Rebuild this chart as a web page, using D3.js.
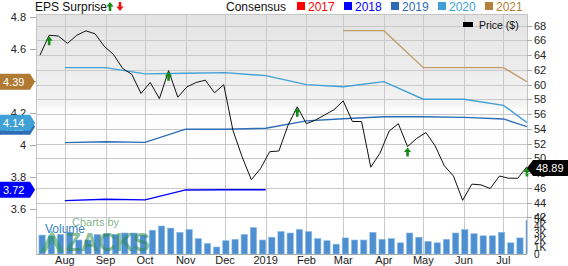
<!DOCTYPE html>
<html>
<head>
<meta charset="utf-8">
<script src="https://cdn.jsdelivr.net/npm/d3@7"></script>
<style>
  body { margin: 0; background: #fff; }
  text { font-family: "Liberation Sans", Arial, sans-serif; }
</style>
</head>
<body>
<div id="chart"></div>
<script>
var width  = 568;
var height = 266;

// Plot box: left, right, top, bottom, and top of the volume strip.
var p = { l: 36, r: 527, t: 14, b: 254, v: 218 };

// ---- data ----
var firstWeek = new Date(2018, 6, 13);

// weekly closing price ($)
var prices = [64.0, 66.7, 66.6, 65.6, 66.7, 67.3, 66.9, 65.2, 64.1, 62.2,
              61.4, 58.8, 60.3, 58.1, 61.9, 58.3, 59.7, 60.3, 60.6, 58.9,
              60.0, 53.8, 50.2, 47.1, 48.6, 50.9, 51.0, 54.5, 57.0, 54.7,
              55.2, 55.9, 56.6, 57.8, 55.0, 55.0, 48.8, 50.7, 53.7, 54.7,
              51.6, 52.7, 53.5, 51.7, 49.0, 47.6, 44.3, 46.5, 46.4, 45.9,
              47.6, 47.3, 47.3, 48.89];

// weekly volume (K)
var volumes = [2.7, 2.6, 2.8, 3.1, 2.0, 2.0, 2.8, 2.9, 2.8, 3.0,
               3.0, 2.7, 3.4, 4.0, 3.7, 3.1, 3.5, 2.2, 1.5, 1.0,
               1.9, 2.1, 2.8, 3.8, 2.0, 2.4, 3.2, 3.0, 3.5, 3.2,
               2.2, 1.9, 1.4, 2.3, 2.0, 2.0, 3.1, 2.1, 2.2, 1.6,
               3.0, 2.4, 1.8, 1.6, 2.1, 3.0, 3.5, 2.9, 2.6, 2.6,
               3.1, 1.6, 2.3, 4.8];

// weeks (index into prices) with a positive EPS surprise
var surpriseWeeks = [1, 14, 28, 40, 53];

// consensus estimate dates
var consensusDates = ["2018-08-01", "2018-09-01", "2018-10-01", "2018-11-01",
                      "2018-12-01", "2019-01-01", "2019-02-01", "2019-03-01",
                      "2019-04-01", "2019-05-01", "2019-06-01", "2019-07-01",
                      "2019-07-19"];

var eps2018 = [3.652, 3.661, 3.657, 3.719, 3.72, 3.72,
               null, null, null, null, null, null, null];
var eps2019 = [4.014, 4.02, 4.016, 4.098, 4.098, 4.104, 4.15,
               4.163, 4.176, 4.176, 4.172, 4.162, 4.114];
var eps2020 = [4.482, 4.482, 4.443, 4.447, 4.451, 4.432, 4.376,
               4.363, 4.395, 4.285, 4.285, 4.247, 4.139];
var eps2021 = [null, null, null, null, null, null, null,
               4.713, 4.713, 4.482, 4.482, 4.482, 4.394];

var legendYears = ["2017", "2018", "2019", "2020", "2021"];
var legendColors = ["#ff0000", "#0000ff", "#2d6db6", "#3fa1d6", "#b5803a"];

var monthTicks = ["2018-08-01", "2018-09-01", "2018-10-01", "2018-11-01",
                  "2018-12-01", "2019-01-01", "2019-02-01", "2019-03-01",
                  "2019-04-01", "2019-05-01", "2019-06-01", "2019-07-01"];
var monthLabels = ["Aug", "Sep", "Oct", "Nov", "Dec", "2019",
                   "Feb", "Mar", "Apr", "May", "Jun", "Jul"];

var priceTicks = [42, 44, 46, 48, 50, 52, 54, 56, 58, 60, 62, 64, 66, 68];
var epsTicks = [3.6, 3.8, 4.0, 4.2, 4.4, 4.6, 4.8];
var volumeTicks = [0, 1, 2, 3, 4, 5];

// ---- scales ----
var parse = d3.timeParse("%Y-%m-%d");

var x = d3.scaleTime()
          .domain([new Date(2018, 6, 10), new Date(2019, 6, 19)])
          .range([p.l, p.r]);

var yPrice = d3.scaleLinear().domain([42, 68]).range([217.3, 25.7]);
var yEps   = d3.scaleLinear().domain([3.6, 4.8]).range([209, 16.7]);
var yVol   = d3.scaleLinear().domain([0, 5]).range([p.b, 219]);

var weekDate = function(i) { return d3.timeDay.offset(firstWeek, 7 * i); };

var svg = d3.select('#chart')
            .append('svg')
            .attr('width', width)
            .attr('height', height);

var defs = svg.append('defs');

var grad = defs.append('linearGradient')
               .attr('id', 'bg')
               .attr('x1', 0).attr('y1', 0).attr('x2', 0).attr('y2', 1);
grad.append('stop').attr('offset', '0%').attr('stop-color', '#e3e3e3');
grad.append('stop').attr('offset', '44%').attr('stop-color', '#f3f3f3');
grad.append('stop').attr('offset', '47%').attr('stop-color', '#fdfdfd');
grad.append('stop').attr('offset', '100%').attr('stop-color', '#ffffff');

defs.append('clipPath').attr('id', 'plot')
    .append('rect')
    .attr('x', p.l).attr('y', p.t)
    .attr('width', p.r - p.l).attr('height', p.b - p.t);

// Background of the price area
svg.append('rect')
   .attr('x', p.l).attr('y', p.t)
   .attr('width', p.r - p.l).attr('height', p.v - p.t)
   .attr('fill', 'url(#bg)');

// Grid lines
var grid = svg.append('g').attr('stroke', '#c9c9c9').attr('stroke-width', 1);

grid.selectAll('line.h')
    .data(priceTicks)
    .enter().append('line')
    .attr('x1', p.l).attr('x2', p.r)
    .attr('y1', function(d) { return Math.round(yPrice(d)) + 0.5; })
    .attr('y2', function(d) { return Math.round(yPrice(d)) + 0.5; });

grid.selectAll('line.v')
    .data(monthTicks)
    .enter().append('line')
    .attr('y1', p.t).attr('y2', p.b)
    .attr('x1', function(d) { return Math.round(x(parse(d))) + 0.5; })
    .attr('x2', function(d) { return Math.round(x(parse(d))) + 0.5; });

// plot border
svg.append('path')
   .attr('d', 'M' + (p.l + 0.5) + ',' + p.b + 'V' + (p.t + 0.5) + 'H' + (p.r + 0.5) + 'V' + p.b)
   .attr('fill', 'none')
   .attr('stroke', '#c4c4c4');

var plot = svg.append('g').attr('clip-path', 'url(#plot)');

// Volume bars
plot.selectAll('rect.vol')
    .data(volumes)
    .enter().append('rect')
    .attr('x', function(d, i) { return x(weekDate(i)) - 1; })
    .attr('y', function(d) { return yVol(d); })
    .attr('width', 6.3)
    .attr('height', function(d) { return p.b - yVol(d); })
    .attr('fill', '#4d8fd0')
    .attr('stroke', '#8dbbe6')
    .attr('stroke-width', 0.6);

// Watermark
svg.append('text')
   .attr('x', 45).attr('y', 233)
   .style('font-size', '12px')
   .attr('fill', '#3a7fc6')
   .text('Volume');

svg.append('text')
   .attr('x', 72).attr('y', 226)
   .style('font-size', '11px')
   .attr('fill', '#5fa36f')
   .attr('fill-opacity', 0.8)
   .text('Charts by');

svg.append('path')
   .attr('d', 'M40,252L52,230L64,252Z M46,252L52,240L58,252Z')
   .attr('fill', '#2f9a4c')
   .attr('fill-rule', 'evenodd')
   .attr('fill-opacity', 0.55);

svg.append('text')
   .attr('x', 66).attr('y', 251)
   .style('font-size', '25px')
   .style('font-weight', 'bold')
   .attr('textLength', 84)
   .attr('fill', '#2c8a48')
   .attr('fill-opacity', 0.55)
   .text('ZACKS');

// Consensus lines
var epsLine = d3.line()
                .defined(function(d) { return d.v != null; })
                .x(function(d) { return x(d.date); })
                .y(function(d) { return yEps(d.v); });

var series = [
  { name: '2018', values: eps2018, color: legendColors[1] },
  { name: '2019', values: eps2019, color: legendColors[2] },
  { name: '2020', values: eps2020, color: legendColors[3] },
  { name: '2021', values: eps2021, color: '#c29b6a' }
];

series.forEach(function(s) {
  s.points = s.values.map(function(v, i) {
    return { date: parse(consensusDates[i]), v: v };
  });
  plot.append('path')
      .datum(s.points)
      .attr('d', epsLine)
      .attr('fill', 'none')
      .attr('stroke', s.color)
      .attr('stroke-width', 1.4);
});

// Price line
var priceLine = d3.line()
                  .x(function(d, i) { return x(weekDate(i)); })
                  .y(function(d) { return yPrice(d); });

plot.append('path')
    .datum(prices)
    .attr('d', priceLine)
    .attr('fill', 'none')
    .attr('stroke', '#111')
    .attr('stroke-width', 1);

// Surprise arrows (tip sits on the price)
var upArrow = 'M0,0L3.6,4.5L1.3,4.5L1.3,9L-1.3,9L-1.3,4.5L-3.6,4.5Z';
var downArrow = 'M0,9L3.6,4.5L1.3,4.5L1.3,0L-1.3,0L-1.3,4.5L-3.6,4.5Z';

svg.selectAll('path.surprise')
   .data(surpriseWeeks)
   .enter().append('path')
   .attr('d', upArrow)
   .attr('transform', function(d) {
     return 'translate(' + x(weekDate(d)) + ',' + (yPrice(prices[d]) + 1) + ')';
   })
   .attr('fill', '#158a15');

// Left axis (EPS)
var left = svg.append('g');
left.selectAll('line')
    .data(epsTicks)
    .enter().append('line')
    .attr('x1', 30).attr('x2', p.l)
    .attr('y1', function(d) { return Math.round(yEps(d)) + 0.5; })
    .attr('y2', function(d) { return Math.round(yEps(d)) + 0.5; })
    .attr('stroke', '#aaa');
left.selectAll('text')
    .data(epsTicks)
    .enter().append('text')
    .attr('x', 26)
    .attr('y', function(d) { return yEps(d); })
    .attr('dy', '0.36em')
    .attr('text-anchor', 'end')
    .style('font-size', '11px')
    .attr('fill', '#222')
    .text(function(d) { return d3.format('~g')(d); });

// Right axis (price + volume)
var right = svg.append('g');
right.selectAll('line')
     .data(priceTicks)
     .enter().append('line')
     .attr('x1', p.r).attr('x2', p.r + 5)
     .attr('y1', function(d) { return Math.round(yPrice(d)) + 0.5; })
     .attr('y2', function(d) { return Math.round(yPrice(d)) + 0.5; })
     .attr('stroke', '#aaa');
right.selectAll('text.price')
     .data(priceTicks)
     .enter().append('text')
     .attr('x', p.r + 7)
     .attr('y', function(d) { return yPrice(d); })
     .attr('dy', '0.36em')
     .style('font-size', '11px')
     .attr('fill', '#222')
     .text(function(d) { return d; });
right.selectAll('text.vol')
     .data(volumeTicks)
     .enter().append('text')
     .attr('x', p.r + 7)
     .attr('y', function(d) { return yVol(d); })
     .attr('dy', '0.36em')
     .style('font-size', '10px')
     .attr('fill', '#222')
     .text(function(d) { return d ? d + 'K' : '0'; });

// bottom axis line and month labels
svg.append('line')
   .attr('x1', p.l).attr('x2', p.r)
   .attr('y1', p.b + 0.5).attr('y2', p.b + 0.5)
   .attr('stroke', '#aaa');

svg.selectAll('text.month')
   .data(monthTicks)
   .enter().append('text')
   .attr('x', function(d) { return x(parse(d)); })
   .attr('y', 264)
   .attr('text-anchor', 'middle')
   .style('font-size', '11px')
   .attr('fill', '#222')
   .text(function(d, i) { return monthLabels[i]; });

// Last-value badges on the left
var badgeColors = { '2018': '#0000ff', '2019': '#2d6db6', '2020': '#3fa1d6', '2021': '#b07a32' };
series.forEach(function(s) {
  var last = s.points.filter(function(d) { return d.v != null; }).pop();
  var c = yEps(last.v);
  var g = svg.append('g').attr('transform', 'translate(0,' + c + ')');
  g.append('path')
   .attr('d', 'M0,-8H30L35,0L30,8H0Z')
   .attr('fill', badgeColors[s.name]);
  g.append('text')
   .attr('x', 3).attr('dy', '0.36em')
   .style('font-size', '11px')
   .attr('fill', '#fff')
   .text(d3.format('.2f')(last.v));
});

// Last price badge on the right
var lastPrice = prices[prices.length - 1];
var pb = svg.append('g').attr('transform', 'translate(0,' + (yPrice(lastPrice) + 1.5) + ')');
pb.append('path')
  .attr('d', 'M' + p.r + ',0L' + (p.r + 6) + ',-8H' + width + 'V8H' + (p.r + 6) + 'Z')
  .attr('fill', '#000');
pb.append('text')
  .attr('x', p.r + 9).attr('dy', '0.36em')
  .style('font-size', '11px')
  .attr('fill', '#fff')
  .text(d3.format('.2f')(lastPrice));

// Header
svg.append('text')
   .attr('x', 35).attr('y', 11)
   .style('font-size', '12px')
   .attr('fill', '#111')
   .text('EPS Surprise');
svg.append('path')
   .attr('d', upArrow)
   .attr('transform', 'translate(110,2)')
   .attr('fill', '#158a15');
svg.append('path')
   .attr('d', downArrow)
   .attr('transform', 'translate(120,2)')
   .attr('fill', '#ee1111');

svg.append('text')
   .attr('x', 226).attr('y', 11)
   .style('font-size', '12px')
   .attr('fill', '#111')
   .text('Consensus');

var legend = svg.selectAll('g.year')
                .data(legendYears)
                .enter().append('g')
                .attr('transform', function(d, i) { return 'translate(' + (297 + i * 47) + ',0)'; });
legend.append('rect')
      .attr('y', 2).attr('width', 8).attr('height', 8)
      .attr('fill', function(d, i) { return legendColors[i]; });
legend.append('text')
      .attr('x', 11).attr('y', 11)
      .style('font-size', '12px')
      .attr('fill', function(d, i) { return legendColors[i]; })
      .text(function(d) { return d; });

// Price legend
svg.append('rect')
   .attr('x', 463).attr('y', 22).attr('width', 10).attr('height', 5)
   .attr('fill', '#000');
svg.append('text')
   .attr('x', 479).attr('y', 29)
   .style('font-size', '10.5px')
   .attr('fill', '#111')
   .text('Price ($)');
</script>
</body>
</html>
